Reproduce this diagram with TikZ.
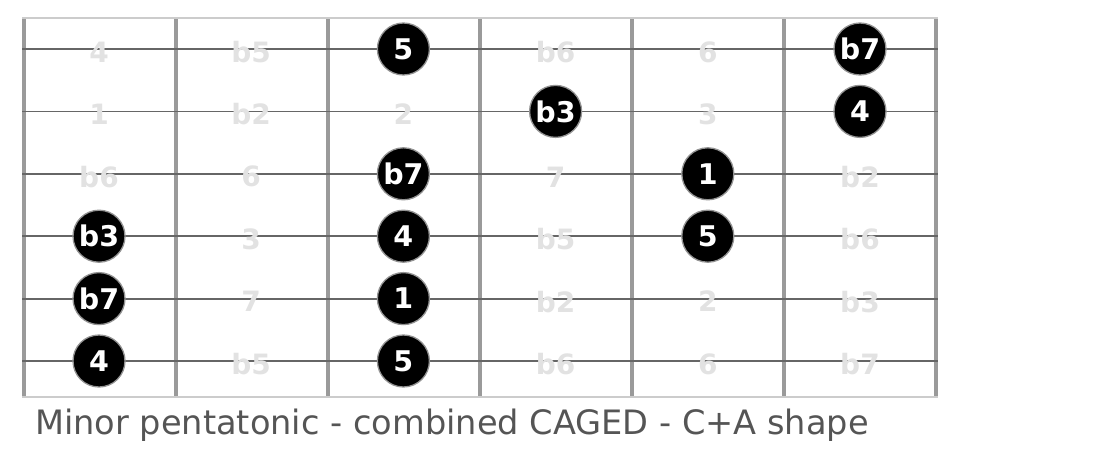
\documentclass[tikz,border=0pt]{standalone}
\usepackage{fontspec}
\setmainfont{DejaVu Sans}
\definecolor{fretgray}{HTML}{9A9A9A}
\definecolor{stringgray}{HTML}{666666}
\definecolor{edgegray}{HTML}{CCCCCC}
\definecolor{ghostgray}{HTML}{E2E2E2}
\definecolor{captiongray}{HTML}{555555}
\begin{document}
\begin{tikzpicture}[x=1pt, y=-1pt,
    ghost/.style = {text=ghostgray, font=\fontsize{28}{28}\selectfont\bfseries, inner sep=0pt, yshift=-3pt},
    dot/.style = {draw=gray!85, line width=1.3pt, fill=black, circle, minimum size=52pt, inner sep=0pt,
                  text=white, font=\fontsize{28.5}{28.5}\selectfont\bfseries}]

      \useasboundingbox (0,0) rectangle (1100,460);

      % frets and edges
      \foreach \f in {0, ..., 6}
        \draw[fretgray, line width=4pt] ({23.5+152.1*\f},18) -- ({23.5+152.1*\f},397);
      \draw[edgegray, line width=1.5pt] (22,18) -- (938,18);
      \draw[edgegray, line width=1.5pt] (22,397) -- (938,397);

      % strings
      \foreach \s in {0, ..., 5}
        \draw[stringgray, line width=1.8pt] (22,{49+62.4*\s}) -- (938,{49+62.4*\s});

      % notes
      \foreach \row/\cells in {
          0/{4/ghost,b5/ghost,5/dot,b6/ghost,6/ghost,b7/dot},
          1/{1/ghost,b2/ghost,2/ghost,b3/dot,3/ghost,4/dot},
          2/{b6/ghost,6/ghost,b7/dot,7/ghost,1/dot,b2/ghost},
          3/{b3/dot,3/ghost,4/dot,b5/ghost,5/dot,b6/ghost},
          4/{b7/dot,7/ghost,1/dot,b2/ghost,2/ghost,b3/ghost},
          5/{4/dot,b5/ghost,5/dot,b6/ghost,6/ghost,b7/ghost}}
        \foreach \lab/\kind [count=\col from 0] in \cells
          \node[\kind] (N_\col_\row) at ({99+152.2*\col},{49+62.4*\row}) {\lab};

      \node[text=captiongray, font=\fontsize{33.6}{33.6}\selectfont, anchor=base west, inner sep=0pt]
        (caption) at (35,434) {Minor pentatonic - combined CAGED - C+A shape};

      \end{tikzpicture}
\end{document}
